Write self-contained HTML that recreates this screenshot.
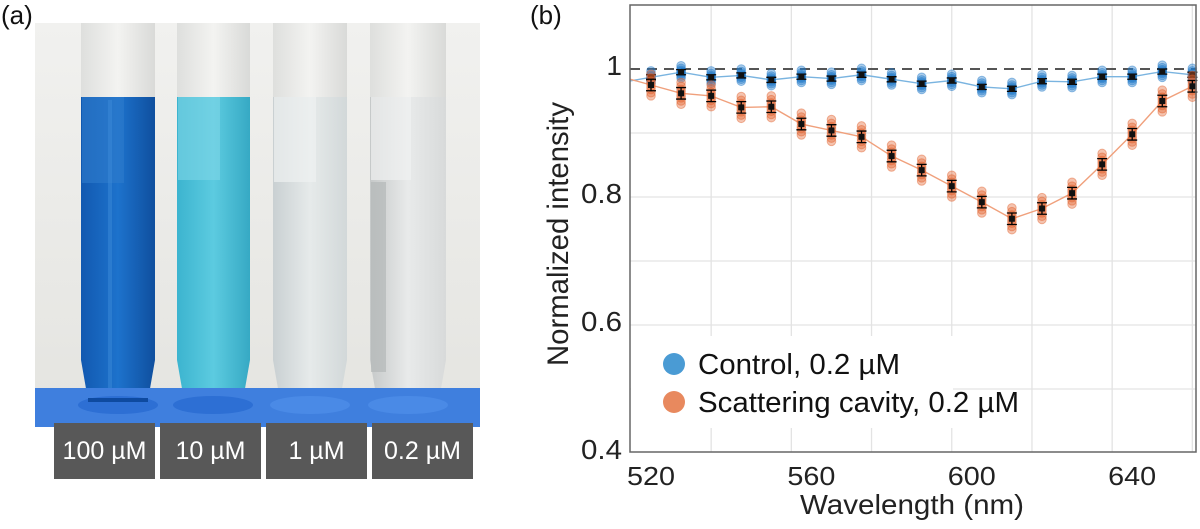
<!DOCTYPE html>
<html><head><meta charset="utf-8">
<style>
html,body{margin:0;padding:0;background:#fff;}
svg{display:block;font-family:"Liberation Sans",sans-serif;}
</style></head>
<body>
<svg id="fig" width="1200" height="529" viewBox="0 0 1200 529" xmlns="http://www.w3.org/2000/svg">
<defs>
<linearGradient id="bg" x1="0" y1="0" x2="0" y2="1"><stop offset="0" stop-color="#f1f1ef"/><stop offset="1" stop-color="#e4e4e0"/></linearGradient>
<linearGradient id="t1" x1="0" x2="1"><stop offset="0" stop-color="#1259b0"/><stop offset="0.5" stop-color="#1d72cc"/><stop offset="1" stop-color="#0f4f9e"/></linearGradient>
<linearGradient id="t2" x1="0" x2="1"><stop offset="0" stop-color="#3cb4cf"/><stop offset="0.5" stop-color="#5ccbe0"/><stop offset="1" stop-color="#36a9c4"/></linearGradient>
<linearGradient id="t3" x1="0" x2="1"><stop offset="0" stop-color="#c9d0d2"/><stop offset="0.5" stop-color="#e6eaea"/><stop offset="1" stop-color="#d2d8d9"/></linearGradient>
<linearGradient id="t4" x1="0" x2="1"><stop offset="0" stop-color="#c6c9c9"/><stop offset="0.5" stop-color="#e8eaea"/><stop offset="1" stop-color="#d8dada"/></linearGradient>
<linearGradient id="top" x1="0" x2="1"><stop offset="0" stop-color="#dedfdd"/><stop offset="0.5" stop-color="#f3f3f1"/><stop offset="1" stop-color="#d9dad8"/></linearGradient>
</defs>

<!-- Panel (a) -->
<text x="1" y="24" font-size="26" fill="#111">(a)</text>
<g>
  <rect x="35" y="23" width="445" height="404" fill="url(#bg)"/>
  <g>
    <rect x="81" y="23" width="74" height="75" fill="url(#top)"/>
    <path d="M81,97 H155 V360 L148,400 H88 L81,360 Z" fill="url(#t1)"/>
    <rect x="82" y="97" width="42" height="86" fill="#2f7ccc" opacity="0.6"/>
    <rect x="108" y="100" width="4" height="290" fill="#3b8ad8" opacity="0.5"/>
  </g>
  <g>
    <rect x="177" y="23" width="73" height="75" fill="url(#top)"/>
    <path d="M177,97 H250 V360 L243,400 H184 L177,360 Z" fill="url(#t2)"/>
    <rect x="178" y="97" width="42" height="83" fill="#7fd6e6" opacity="0.6"/>
  </g>
  <g>
    <rect x="273" y="23" width="74" height="75" fill="url(#top)"/>
    <path d="M273,97 H347 V360 L340,400 H280 L273,360 Z" fill="url(#t3)"/>
    <rect x="274" y="97" width="42" height="85" fill="#eef1f1" opacity="0.7"/>
  </g>
  <g>
    <rect x="370" y="23" width="76" height="75" fill="url(#top)"/>
    <path d="M370,97 H446 V360 L439,400 H377 L370,360 Z" fill="url(#t4)"/>
    <rect x="371" y="97" width="40" height="83" fill="#f0f1f1" opacity="0.7"/>
    <rect x="371" y="182" width="15" height="190" fill="#b4b8b8" opacity="0.7"/>
  </g>
  <g>
    <rect x="35" y="388" width="445" height="39" fill="#3f7fde"/>
    <ellipse cx="118" cy="405" rx="40" ry="9" fill="#2d6fd4"/>
    <ellipse cx="213" cy="405" rx="40" ry="9" fill="#2d6fd4"/>
    <ellipse cx="310" cy="405" rx="40" ry="9" fill="#4a8ae6"/>
    <ellipse cx="408" cy="405" rx="40" ry="9" fill="#4a8ae6"/>
    <path d="M88,398 H148 L148,402 H88Z" fill="#0e4aa0"/>
  </g>
</g>
<g>
  <rect x="54" y="423" width="101" height="56" fill="#585858"/>
  <rect x="160" y="423" width="101" height="56" fill="#585858"/>
  <rect x="266" y="423" width="101" height="56" fill="#585858"/>
  <rect x="372" y="423" width="101" height="56" fill="#585858"/>
  <g font-size="25" fill="#fff" text-anchor="middle">
    <text x="104.5" y="459">100 µM</text>
    <text x="210.5" y="459">10 µM</text>
    <text x="316.5" y="459">1 µM</text>
    <text x="422.5" y="459">0.2 µM</text>
  </g>
</g>

<!-- Panel (b) -->
<text x="530" y="24" font-size="26" fill="#111">(b)</text>
<g id="chart"></g>
</svg>

<script>
const wavelengths = [520,527.5,535,542.5,550,557.5,565,572.5,580,587.5,595,602.5,610,617.5,625,632.5,640,647.5,655];
const controlMeans = [0.987,0.995,0.987,0.990,0.983,0.988,0.985,0.991,0.984,0.977,0.982,0.972,0.969,0.981,0.980,0.988,0.988,0.996,0.991];
const cavityMeans = [0.975,0.962,0.958,0.940,0.941,0.914,0.904,0.894,0.864,0.842,0.817,0.792,0.766,0.782,0.806,0.851,0.898,0.950,0.973];
const controlReplicateOffsets = [-0.009,-0.006,-0.003,-0.001,0.001,0.003,0.006,0.010];
const cavityReplicateOffsets = [-0.017,-0.012,-0.007,-0.003,0.002,0.006,0.011,0.017];
const controlErr = 0.004;
const cavityErr = 0.009;
const xTicks = [520,560,600,640];
const xGrid = [535,555,575,595,615,635,655];
const yTicks = [0.4,0.6,0.8,1];
const yGrid = [0.5,0.6,0.7,0.8,0.9];

const L=630,R=1196,T=5,B=452;
const X = nm => 651 + (nm-520)*4.01;
const Y = v => 69 + (1-v)*640;
const NS="http://www.w3.org/2000/svg";
const chart=document.getElementById('chart');
function mk(tag,attrs,parent){const e=document.createElementNS(NS,tag);for(const k in attrs)e.setAttribute(k,attrs[k]);(parent||chart).appendChild(e);return e;}

const grid=mk('g',{});


xGrid.forEach(nm=>{const l=mk('line',{x1:X(nm),x2:X(nm),y1:T,y2:B,stroke:'#e3e3e3','stroke-width':1.3},grid);

});
yGrid.forEach(v=>{const l=mk('line',{x1:L,x2:R,y1:Y(v),y2:Y(v),stroke:'#e3e3e3','stroke-width':1.3},grid);

});

const lbg=mk('rect',{x:631,y:336,width:322,height:92,fill:'#fff'});



const ref=mk('line',{x1:L,x2:R,y1:Y(1),y2:Y(1),stroke:'#555','stroke-width':2,'stroke-dasharray':'10,7'});



function series(name,means,offs,err,dot,line){
  const g=mk('g',{});
  
  
  const pts=means.map((v,i)=>X(wavelengths[i])+','+Y(v));
  const s0=(means[1]-means[0]);
  const first=L+','+Y(means[0]-s0*(X(wavelengths[0])-L)/(X(wavelengths[1])-X(wavelengths[0])));
  const pl=mk('polyline',{points:[first].concat(pts).join(' '),fill:'none',stroke:line,'stroke-width':1.4},g);
  
  
  means.forEach((v,i)=>{
    const x=X(wavelengths[i]);
    offs.forEach(o=>{const c=mk('circle',{cx:x,cy:Y(v+o),r:4.3,fill:dot,'fill-opacity':0.38,stroke:dot,'stroke-opacity':0.45,'stroke-width':1},g);
      
      });
    const e=mk('path',{d:`M${x},${Y(v+err)}V${Y(v-err)}M${x-5},${Y(v+err)}h10M${x-5},${Y(v-err)}h10`,stroke:'#000','stroke-width':1.3,fill:'none'},g);
    
    
    const m=mk('rect',{x:x-3,y:Y(v)-3,width:6,height:6,fill:'#111'},g);
    
    
  });
}
series('control-series',controlMeans,controlReplicateOffsets,controlErr,'#1f78c8','#7ab4e0');
series('cavity-series',cavityMeans,cavityReplicateOffsets,cavityErr,'#e2622c','#f0a07c');

const box=mk('rect',{x:L,y:T,width:R-L,height:B-T,fill:'none',stroke:'#666','stroke-width':1.5});



xTicks.forEach(nm=>{const t=mk('text',{x:X(nm),y:485,'font-size':26,'text-anchor':'middle',fill:'#222',textLength:48,lengthAdjust:'spacingAndGlyphs'});t.textContent=nm;

});
yTicks.forEach(v=>{const t=mk('text',{x:622,y:Y(v)+6,'font-size':28,'text-anchor':'end',fill:'#222'});t.textContent=(v===1?'1':v.toFixed(1));
if(v!==1){t.setAttribute('textLength',41);t.setAttribute('lengthAdjust','spacingAndGlyphs');}

});

const xt=mk('text',{x:912,y:514,'font-size':28,'text-anchor':'middle',fill:'#222',textLength:224,lengthAdjust:'spacingAndGlyphs'});xt.textContent='Wavelength (nm)';


const yt=mk('text',{x:0,y:0,'font-size':30,'text-anchor':'middle',fill:'#222',transform:'translate(568,234) rotate(-90)',textLength:264,lengthAdjust:'spacingAndGlyphs'});yt.textContent='Normalized intensity';



const lg=mk('g',{});


const c1=mk('circle',{cx:674,cy:364,r:11,fill:'#4a9bd4'},lg);


const t1=mk('text',{x:698,y:374,'font-size':29,fill:'#111',textLength:202,lengthAdjust:'spacingAndGlyphs'},lg);t1.textContent='Control, 0.2 µM';


const c2=mk('circle',{cx:674,cy:402,r:11,fill:'#e8895e'},lg);


const t2=mk('text',{x:698,y:412,'font-size':29,fill:'#111',textLength:321,lengthAdjust:'spacingAndGlyphs'},lg);t2.textContent='Scattering cavity, 0.2 µM';


</script>
</body></html>
